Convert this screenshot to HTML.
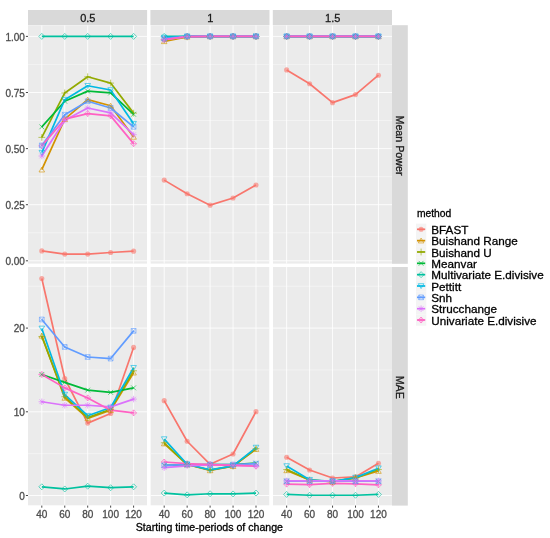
<!DOCTYPE html>
<html><head><meta charset="utf-8"><title>Change point methods: Mean Power and MAE</title>
<style>html,body{margin:0;padding:0;background:#fff}svg{display:block}</style></head>
<body>
<svg width="550" height="538" viewBox="0 0 550 538" font-family="'Liberation Sans', sans-serif">
<rect width="550" height="538" fill="#fff"/>
<rect x="28.0" y="10.0" width="119.1" height="15.2" fill="#D9D9D9"/>
<text x="87.85" y="22.2" font-size="11" fill="#1A1A1A" stroke="#1A1A1A" stroke-width="0.3" text-anchor="middle">0.5</text>
<rect x="150.4" y="10.0" width="119.1" height="15.2" fill="#D9D9D9"/>
<text x="210.25" y="22.2" font-size="11" fill="#1A1A1A" stroke="#1A1A1A" stroke-width="0.3" text-anchor="middle">1</text>
<rect x="272.8" y="10.0" width="119.2" height="15.2" fill="#D9D9D9"/>
<text x="332.7" y="22.2" font-size="11" fill="#1A1A1A" stroke="#1A1A1A" stroke-width="0.3" text-anchor="middle">1.5</text>
<rect x="392.0" y="25.2" width="15.8" height="238.6" fill="#D9D9D9"/>
<text transform="translate(395.6 145.5) rotate(90)" font-size="10.7" fill="#1A1A1A" stroke="#1A1A1A" stroke-width="0.3" text-anchor="middle">Mean Power</text>
<rect x="392.0" y="267.0" width="15.8" height="238.6" fill="#D9D9D9"/>
<text transform="translate(395.6 387.3) rotate(90)" font-size="10.7" fill="#1A1A1A" stroke="#1A1A1A" stroke-width="0.3" text-anchor="middle">MAE</text>
<svg x="28.0" y="25.2" width="119.1" height="238.6" viewBox="28.0 25.2 119.1 238.6">
<rect x="28.0" y="25.2" width="119.1" height="238.6" fill="#EBEBEB"/>
<path d="M28.0 232.75H147.1M28.0 176.65H147.1M28.0 120.55H147.1M28.0 64.45H147.1" stroke="#F8F8F8" stroke-width="0.6" fill="none"/>
<path d="M28.0 260.8H147.1M28.0 204.7H147.1M28.0 148.6H147.1M28.0 92.5H147.1M28.0 36.4H147.1M41.8 25.2V263.8M64.75 25.2V263.8M87.7 25.2V263.8M110.65 25.2V263.8M133.6 25.2V263.8" stroke="#FFFFFF" stroke-width="0.85" fill="none"/>
<polyline points="41.8,250.93 64.75,254.07 87.7,254.07 110.65,252.5 133.6,251.15" fill="none" stroke="#F8766D" stroke-width="1.7" stroke-linejoin="round"/>
<polyline points="41.8,169.69 64.75,119.2 87.7,99.68 110.65,105.74 133.6,136.93" fill="none" stroke="#D39200" stroke-width="1.7" stroke-linejoin="round"/>
<polyline points="41.8,137.38 64.75,92.95 87.7,76.79 110.65,83.08 133.6,113.14" fill="none" stroke="#93AA00" stroke-width="1.7" stroke-linejoin="round"/>
<polyline points="41.8,126.83 64.75,101.25 87.7,91.15 110.65,92.95 133.6,114.27" fill="none" stroke="#00BA38" stroke-width="1.7" stroke-linejoin="round"/>
<polyline points="41.8,36.4 64.75,36.4 87.7,36.4 110.65,36.4 133.6,36.4" fill="none" stroke="#00C19F" stroke-width="1.7" stroke-linejoin="round"/>
<polyline points="41.8,152.64 64.75,99.68 87.7,85.77 110.65,90.03 133.6,123.69" fill="none" stroke="#00B9E3" stroke-width="1.7" stroke-linejoin="round"/>
<polyline points="41.8,145.46 64.75,114.72 87.7,101.25 110.65,107.98 133.6,126.83" fill="none" stroke="#619CFF" stroke-width="1.7" stroke-linejoin="round"/>
<polyline points="41.8,156.01 64.75,120.33 87.7,107.98 110.65,112.92 133.6,134.69" fill="none" stroke="#DB72FB" stroke-width="1.7" stroke-linejoin="round"/>
<polyline points="41.8,145.91 64.75,119.2 87.7,113.59 110.65,115.84 133.6,143.66" fill="none" stroke="#FF61C3" stroke-width="1.7" stroke-linejoin="round"/>
<circle cx="41.8" cy="250.93" r="2.56" fill="#F8766D" opacity="0.6"/>
<circle cx="64.75" cy="254.07" r="2.56" fill="#F8766D" opacity="0.6"/>
<circle cx="87.7" cy="254.07" r="2.56" fill="#F8766D" opacity="0.6"/>
<circle cx="110.65" cy="252.5" r="2.56" fill="#F8766D" opacity="0.6"/>
<circle cx="133.6" cy="251.15" r="2.56" fill="#F8766D" opacity="0.6"/>
<path d="M41.8 142.91L44.8 145.91L41.8 148.91L38.8 145.91ZM38.8 145.91H44.8M41.8 142.91V148.91" stroke="#FF61C3" stroke-width="1.0" fill="none" opacity="0.6"/>
<path d="M64.75 116.2L67.75 119.2L64.75 122.2L61.75 119.2ZM61.75 119.2H67.75M64.75 116.2V122.2" stroke="#FF61C3" stroke-width="1.0" fill="none" opacity="0.6"/>
<path d="M87.7 110.59L90.7 113.59L87.7 116.59L84.7 113.59ZM84.7 113.59H90.7M87.7 110.59V116.59" stroke="#FF61C3" stroke-width="1.0" fill="none" opacity="0.6"/>
<path d="M110.65 112.84L113.65 115.84L110.65 118.84L107.65 115.84ZM107.65 115.84H113.65M110.65 112.84V118.84" stroke="#FF61C3" stroke-width="1.0" fill="none" opacity="0.6"/>
<path d="M133.6 140.66L136.6 143.66L133.6 146.66L130.6 143.66ZM130.6 143.66H136.6M133.6 140.66V146.66" stroke="#FF61C3" stroke-width="1.0" fill="none" opacity="0.6"/>
<path d="M41.8 167.09L44.6 171.99L39 171.99Z" stroke="#D39200" stroke-width="1.0" fill="none" opacity="0.6"/>
<path d="M64.75 116.6L67.55 121.5L61.95 121.5Z" stroke="#D39200" stroke-width="1.0" fill="none" opacity="0.6"/>
<path d="M87.7 97.08L90.5 101.98L84.9 101.98Z" stroke="#D39200" stroke-width="1.0" fill="none" opacity="0.6"/>
<path d="M110.65 103.14L113.45 108.04L107.85 108.04Z" stroke="#D39200" stroke-width="1.0" fill="none" opacity="0.6"/>
<path d="M133.6 134.33L136.4 139.23L130.8 139.23Z" stroke="#D39200" stroke-width="1.0" fill="none" opacity="0.6"/>
<path d="M38.4 137.38H45.2M41.8 133.98V140.78" stroke="#93AA00" stroke-width="1.0" fill="none" opacity="0.6"/>
<path d="M61.35 92.95H68.15M64.75 89.55V96.35" stroke="#93AA00" stroke-width="1.0" fill="none" opacity="0.6"/>
<path d="M84.3 76.79H91.1M87.7 73.39V80.19" stroke="#93AA00" stroke-width="1.0" fill="none" opacity="0.6"/>
<path d="M107.25 83.08H114.05M110.65 79.68V86.48" stroke="#93AA00" stroke-width="1.0" fill="none" opacity="0.6"/>
<path d="M130.2 113.14H137M133.6 109.74V116.54" stroke="#93AA00" stroke-width="1.0" fill="none" opacity="0.6"/>
<path d="M39.37 124.4L44.23 129.26M39.37 129.26L44.23 124.4" stroke="#00BA38" stroke-width="1.0" fill="none" opacity="0.6"/>
<path d="M62.32 98.82L67.18 103.68M62.32 103.68L67.18 98.82" stroke="#00BA38" stroke-width="1.0" fill="none" opacity="0.6"/>
<path d="M85.27 88.72L90.13 93.58M85.27 93.58L90.13 88.72" stroke="#00BA38" stroke-width="1.0" fill="none" opacity="0.6"/>
<path d="M108.22 90.52L113.08 95.38M108.22 95.38L113.08 90.52" stroke="#00BA38" stroke-width="1.0" fill="none" opacity="0.6"/>
<path d="M131.17 111.84L136.03 116.7M131.17 116.7L136.03 111.84" stroke="#00BA38" stroke-width="1.0" fill="none" opacity="0.6"/>
<path d="M41.8 33.4L44.8 36.4L41.8 39.4L38.8 36.4Z" stroke="#00C19F" stroke-width="1.0" fill="none" opacity="0.6"/>
<path d="M64.75 33.4L67.75 36.4L64.75 39.4L61.75 36.4Z" stroke="#00C19F" stroke-width="1.0" fill="none" opacity="0.6"/>
<path d="M87.7 33.4L90.7 36.4L87.7 39.4L84.7 36.4Z" stroke="#00C19F" stroke-width="1.0" fill="none" opacity="0.6"/>
<path d="M110.65 33.4L113.65 36.4L110.65 39.4L107.65 36.4Z" stroke="#00C19F" stroke-width="1.0" fill="none" opacity="0.6"/>
<path d="M133.6 33.4L136.6 36.4L133.6 39.4L130.6 36.4Z" stroke="#00C19F" stroke-width="1.0" fill="none" opacity="0.6"/>
<path d="M39.45 143.11H44.15V147.81H39.45ZM39.45 143.11L44.15 147.81M39.45 147.81L44.15 143.11" stroke="#619CFF" stroke-width="1.0" fill="none" opacity="0.6"/>
<path d="M62.4 112.37H67.1V117.07H62.4ZM62.4 112.37L67.1 117.07M62.4 117.07L67.1 112.37" stroke="#619CFF" stroke-width="1.0" fill="none" opacity="0.6"/>
<path d="M85.35 98.9H90.05V103.6H85.35ZM85.35 98.9L90.05 103.6M85.35 103.6L90.05 98.9" stroke="#619CFF" stroke-width="1.0" fill="none" opacity="0.6"/>
<path d="M108.3 105.63H113V110.33H108.3ZM108.3 105.63L113 110.33M108.3 110.33L113 105.63" stroke="#619CFF" stroke-width="1.0" fill="none" opacity="0.6"/>
<path d="M131.25 124.48H135.95V129.18H131.25ZM131.25 124.48L135.95 129.18M131.25 129.18L135.95 124.48" stroke="#619CFF" stroke-width="1.0" fill="none" opacity="0.6"/>
<path d="M41.8 155.24L44.6 150.34L39 150.34Z" stroke="#00B9E3" stroke-width="1.0" fill="none" opacity="0.6"/>
<path d="M64.75 102.28L67.55 97.38L61.95 97.38Z" stroke="#00B9E3" stroke-width="1.0" fill="none" opacity="0.6"/>
<path d="M87.7 88.37L90.5 83.47L84.9 83.47Z" stroke="#00B9E3" stroke-width="1.0" fill="none" opacity="0.6"/>
<path d="M110.65 92.63L113.45 87.73L107.85 87.73Z" stroke="#00B9E3" stroke-width="1.0" fill="none" opacity="0.6"/>
<path d="M133.6 126.29L136.4 121.39L130.8 121.39Z" stroke="#00B9E3" stroke-width="1.0" fill="none" opacity="0.6"/>
<path d="M38.56 156.01H45.04M41.8 152.77V159.25M39.51 153.71L44.09 158.3M39.51 158.3L44.09 153.71" stroke="#DB72FB" stroke-width="1.0" fill="none" opacity="0.6"/>
<path d="M61.51 120.33H67.99M64.75 117.09V123.57M62.46 118.03L67.04 122.62M62.46 122.62L67.04 118.03" stroke="#DB72FB" stroke-width="1.0" fill="none" opacity="0.6"/>
<path d="M84.46 107.98H90.94M87.7 104.74V111.22M85.41 105.69L89.99 110.27M85.41 110.27L89.99 105.69" stroke="#DB72FB" stroke-width="1.0" fill="none" opacity="0.6"/>
<path d="M107.41 112.92H113.89M110.65 109.68V116.16M108.36 110.63L112.94 115.21M108.36 115.21L112.94 110.63" stroke="#DB72FB" stroke-width="1.0" fill="none" opacity="0.6"/>
<path d="M130.36 134.69H136.84M133.6 131.45V137.93M131.31 132.4L135.89 136.98M131.31 136.98L135.89 132.4" stroke="#DB72FB" stroke-width="1.0" fill="none" opacity="0.6"/>
</svg>
<svg x="150.4" y="25.2" width="119.1" height="238.6" viewBox="150.4 25.2 119.1 238.6">
<rect x="150.4" y="25.2" width="119.1" height="238.6" fill="#EBEBEB"/>
<path d="M150.4 232.75H269.5M150.4 176.65H269.5M150.4 120.55H269.5M150.4 64.45H269.5" stroke="#F8F8F8" stroke-width="0.6" fill="none"/>
<path d="M150.4 260.8H269.5M150.4 204.7H269.5M150.4 148.6H269.5M150.4 92.5H269.5M150.4 36.4H269.5M164.2 25.2V263.8M187.15 25.2V263.8M210.1 25.2V263.8M233.05 25.2V263.8M256 25.2V263.8" stroke="#FFFFFF" stroke-width="0.85" fill="none"/>
<polyline points="164.2,180.11 187.15,193.7 210.1,205.15 233.05,197.97 256,184.95" fill="none" stroke="#F8766D" stroke-width="1.7" stroke-linejoin="round"/>
<polyline points="164.2,41.34 187.15,36.85 210.1,36.4 233.05,36.4 256,36.4" fill="none" stroke="#D39200" stroke-width="1.7" stroke-linejoin="round"/>
<polyline points="164.2,39.99 187.15,36.85 210.1,36.4 233.05,36.4 256,36.4" fill="none" stroke="#93AA00" stroke-width="1.7" stroke-linejoin="round"/>
<polyline points="164.2,38.64 187.15,36.4 210.1,36.4 233.05,36.4 256,36.4" fill="none" stroke="#00BA38" stroke-width="1.7" stroke-linejoin="round"/>
<polyline points="164.2,36.4 187.15,36.4 210.1,36.4 233.05,36.4 256,36.4" fill="none" stroke="#00C19F" stroke-width="1.7" stroke-linejoin="round"/>
<polyline points="164.2,37.52 187.15,36.4 210.1,36.4 233.05,36.4 256,36.4" fill="none" stroke="#00B9E3" stroke-width="1.7" stroke-linejoin="round"/>
<polyline points="164.2,38.64 187.15,36.4 210.1,36.4 233.05,36.4 256,36.4" fill="none" stroke="#619CFF" stroke-width="1.7" stroke-linejoin="round"/>
<polyline points="164.2,39.77 187.15,36.62 210.1,36.4 233.05,36.4 256,36.4" fill="none" stroke="#DB72FB" stroke-width="1.7" stroke-linejoin="round"/>
<polyline points="164.2,39.54 187.15,36.62 210.1,36.4 233.05,36.4 256,36.4" fill="none" stroke="#FF61C3" stroke-width="1.7" stroke-linejoin="round"/>
<circle cx="164.2" cy="180.11" r="2.56" fill="#F8766D" opacity="0.6"/>
<circle cx="187.15" cy="193.7" r="2.56" fill="#F8766D" opacity="0.6"/>
<circle cx="210.1" cy="205.15" r="2.56" fill="#F8766D" opacity="0.6"/>
<circle cx="233.05" cy="197.97" r="2.56" fill="#F8766D" opacity="0.6"/>
<circle cx="256" cy="184.95" r="2.56" fill="#F8766D" opacity="0.6"/>
<path d="M164.2 36.54L167.2 39.54L164.2 42.54L161.2 39.54ZM161.2 39.54H167.2M164.2 36.54V42.54" stroke="#FF61C3" stroke-width="1.0" fill="none" opacity="0.6"/>
<path d="M187.15 33.62L190.15 36.62L187.15 39.62L184.15 36.62ZM184.15 36.62H190.15M187.15 33.62V39.62" stroke="#FF61C3" stroke-width="1.0" fill="none" opacity="0.6"/>
<path d="M210.1 33.4L213.1 36.4L210.1 39.4L207.1 36.4ZM207.1 36.4H213.1M210.1 33.4V39.4" stroke="#FF61C3" stroke-width="1.0" fill="none" opacity="0.6"/>
<path d="M233.05 33.4L236.05 36.4L233.05 39.4L230.05 36.4ZM230.05 36.4H236.05M233.05 33.4V39.4" stroke="#FF61C3" stroke-width="1.0" fill="none" opacity="0.6"/>
<path d="M256 33.4L259 36.4L256 39.4L253 36.4ZM253 36.4H259M256 33.4V39.4" stroke="#FF61C3" stroke-width="1.0" fill="none" opacity="0.6"/>
<path d="M164.2 38.74L167 43.64L161.4 43.64Z" stroke="#D39200" stroke-width="1.0" fill="none" opacity="0.6"/>
<path d="M187.15 34.25L189.95 39.15L184.35 39.15Z" stroke="#D39200" stroke-width="1.0" fill="none" opacity="0.6"/>
<path d="M210.1 33.8L212.9 38.7L207.3 38.7Z" stroke="#D39200" stroke-width="1.0" fill="none" opacity="0.6"/>
<path d="M233.05 33.8L235.85 38.7L230.25 38.7Z" stroke="#D39200" stroke-width="1.0" fill="none" opacity="0.6"/>
<path d="M256 33.8L258.8 38.7L253.2 38.7Z" stroke="#D39200" stroke-width="1.0" fill="none" opacity="0.6"/>
<path d="M160.8 39.99H167.6M164.2 36.59V43.39" stroke="#93AA00" stroke-width="1.0" fill="none" opacity="0.6"/>
<path d="M183.75 36.85H190.55M187.15 33.45V40.25" stroke="#93AA00" stroke-width="1.0" fill="none" opacity="0.6"/>
<path d="M206.7 36.4H213.5M210.1 33V39.8" stroke="#93AA00" stroke-width="1.0" fill="none" opacity="0.6"/>
<path d="M229.65 36.4H236.45M233.05 33V39.8" stroke="#93AA00" stroke-width="1.0" fill="none" opacity="0.6"/>
<path d="M252.6 36.4H259.4M256 33V39.8" stroke="#93AA00" stroke-width="1.0" fill="none" opacity="0.6"/>
<path d="M161.77 36.21L166.63 41.07M161.77 41.07L166.63 36.21" stroke="#00BA38" stroke-width="1.0" fill="none" opacity="0.6"/>
<path d="M184.72 33.97L189.58 38.83M184.72 38.83L189.58 33.97" stroke="#00BA38" stroke-width="1.0" fill="none" opacity="0.6"/>
<path d="M207.67 33.97L212.53 38.83M207.67 38.83L212.53 33.97" stroke="#00BA38" stroke-width="1.0" fill="none" opacity="0.6"/>
<path d="M230.62 33.97L235.48 38.83M230.62 38.83L235.48 33.97" stroke="#00BA38" stroke-width="1.0" fill="none" opacity="0.6"/>
<path d="M253.57 33.97L258.43 38.83M253.57 38.83L258.43 33.97" stroke="#00BA38" stroke-width="1.0" fill="none" opacity="0.6"/>
<path d="M164.2 33.4L167.2 36.4L164.2 39.4L161.2 36.4Z" stroke="#00C19F" stroke-width="1.0" fill="none" opacity="0.6"/>
<path d="M187.15 33.4L190.15 36.4L187.15 39.4L184.15 36.4Z" stroke="#00C19F" stroke-width="1.0" fill="none" opacity="0.6"/>
<path d="M210.1 33.4L213.1 36.4L210.1 39.4L207.1 36.4Z" stroke="#00C19F" stroke-width="1.0" fill="none" opacity="0.6"/>
<path d="M233.05 33.4L236.05 36.4L233.05 39.4L230.05 36.4Z" stroke="#00C19F" stroke-width="1.0" fill="none" opacity="0.6"/>
<path d="M256 33.4L259 36.4L256 39.4L253 36.4Z" stroke="#00C19F" stroke-width="1.0" fill="none" opacity="0.6"/>
<path d="M161.85 36.29H166.55V40.99H161.85ZM161.85 36.29L166.55 40.99M161.85 40.99L166.55 36.29" stroke="#619CFF" stroke-width="1.0" fill="none" opacity="0.6"/>
<path d="M184.8 34.05H189.5V38.75H184.8ZM184.8 34.05L189.5 38.75M184.8 38.75L189.5 34.05" stroke="#619CFF" stroke-width="1.0" fill="none" opacity="0.6"/>
<path d="M207.75 34.05H212.45V38.75H207.75ZM207.75 34.05L212.45 38.75M207.75 38.75L212.45 34.05" stroke="#619CFF" stroke-width="1.0" fill="none" opacity="0.6"/>
<path d="M230.7 34.05H235.4V38.75H230.7ZM230.7 34.05L235.4 38.75M230.7 38.75L235.4 34.05" stroke="#619CFF" stroke-width="1.0" fill="none" opacity="0.6"/>
<path d="M253.65 34.05H258.35V38.75H253.65ZM253.65 34.05L258.35 38.75M253.65 38.75L258.35 34.05" stroke="#619CFF" stroke-width="1.0" fill="none" opacity="0.6"/>
<path d="M164.2 40.12L167 35.22L161.4 35.22Z" stroke="#00B9E3" stroke-width="1.0" fill="none" opacity="0.6"/>
<path d="M187.15 39L189.95 34.1L184.35 34.1Z" stroke="#00B9E3" stroke-width="1.0" fill="none" opacity="0.6"/>
<path d="M210.1 39L212.9 34.1L207.3 34.1Z" stroke="#00B9E3" stroke-width="1.0" fill="none" opacity="0.6"/>
<path d="M233.05 39L235.85 34.1L230.25 34.1Z" stroke="#00B9E3" stroke-width="1.0" fill="none" opacity="0.6"/>
<path d="M256 39L258.8 34.1L253.2 34.1Z" stroke="#00B9E3" stroke-width="1.0" fill="none" opacity="0.6"/>
<path d="M160.96 39.77H167.44M164.2 36.53V43.01M161.91 37.48L166.49 42.06M161.91 42.06L166.49 37.48" stroke="#DB72FB" stroke-width="1.0" fill="none" opacity="0.6"/>
<path d="M183.91 36.62H190.39M187.15 33.38V39.86M184.86 34.33L189.44 38.92M184.86 38.92L189.44 34.33" stroke="#DB72FB" stroke-width="1.0" fill="none" opacity="0.6"/>
<path d="M206.86 36.4H213.34M210.1 33.16V39.64M207.81 34.11L212.39 38.69M207.81 38.69L212.39 34.11" stroke="#DB72FB" stroke-width="1.0" fill="none" opacity="0.6"/>
<path d="M229.81 36.4H236.29M233.05 33.16V39.64M230.76 34.11L235.34 38.69M230.76 38.69L235.34 34.11" stroke="#DB72FB" stroke-width="1.0" fill="none" opacity="0.6"/>
<path d="M252.76 36.4H259.24M256 33.16V39.64M253.71 34.11L258.29 38.69M253.71 38.69L258.29 34.11" stroke="#DB72FB" stroke-width="1.0" fill="none" opacity="0.6"/>
</svg>
<svg x="272.8" y="25.2" width="119.2" height="238.6" viewBox="272.8 25.2 119.2 238.6">
<rect x="272.8" y="25.2" width="119.2" height="238.6" fill="#EBEBEB"/>
<path d="M272.8 232.75H392.0M272.8 176.65H392.0M272.8 120.55H392.0M272.8 64.45H392.0" stroke="#F8F8F8" stroke-width="0.6" fill="none"/>
<path d="M272.8 260.8H392.0M272.8 204.7H392.0M272.8 148.6H392.0M272.8 92.5H392.0M272.8 36.4H392.0M286.65 25.2V263.8M309.6 25.2V263.8M332.55 25.2V263.8M355.5 25.2V263.8M378.45 25.2V263.8" stroke="#FFFFFF" stroke-width="0.85" fill="none"/>
<polyline points="286.65,69.9 309.6,83.75 332.55,102.67 355.5,94.59 378.45,75.22" fill="none" stroke="#F8766D" stroke-width="1.7" stroke-linejoin="round"/>
<polyline points="286.65,36.4 309.6,36.4 332.55,36.4 355.5,36.4 378.45,36.4" fill="none" stroke="#D39200" stroke-width="1.7" stroke-linejoin="round"/>
<polyline points="286.65,36.4 309.6,36.4 332.55,36.4 355.5,36.4 378.45,36.4" fill="none" stroke="#93AA00" stroke-width="1.7" stroke-linejoin="round"/>
<polyline points="286.65,36.4 309.6,36.4 332.55,36.4 355.5,36.4 378.45,36.4" fill="none" stroke="#00BA38" stroke-width="1.7" stroke-linejoin="round"/>
<polyline points="286.65,36.4 309.6,36.4 332.55,36.4 355.5,36.4 378.45,36.4" fill="none" stroke="#00C19F" stroke-width="1.7" stroke-linejoin="round"/>
<polyline points="286.65,36.4 309.6,36.4 332.55,36.4 355.5,36.4 378.45,36.4" fill="none" stroke="#00B9E3" stroke-width="1.7" stroke-linejoin="round"/>
<polyline points="286.65,36.4 309.6,36.4 332.55,36.4 355.5,36.4 378.45,36.4" fill="none" stroke="#619CFF" stroke-width="1.7" stroke-linejoin="round"/>
<polyline points="286.65,36.4 309.6,36.4 332.55,36.4 355.5,36.4 378.45,36.4" fill="none" stroke="#DB72FB" stroke-width="1.7" stroke-linejoin="round"/>
<polyline points="286.65,36.4 309.6,36.4 332.55,36.4 355.5,36.4 378.45,36.4" fill="none" stroke="#FF61C3" stroke-width="1.7" stroke-linejoin="round"/>
<circle cx="286.65" cy="69.9" r="2.56" fill="#F8766D" opacity="0.6"/>
<circle cx="309.6" cy="83.75" r="2.56" fill="#F8766D" opacity="0.6"/>
<circle cx="332.55" cy="102.67" r="2.56" fill="#F8766D" opacity="0.6"/>
<circle cx="355.5" cy="94.59" r="2.56" fill="#F8766D" opacity="0.6"/>
<circle cx="378.45" cy="75.22" r="2.56" fill="#F8766D" opacity="0.6"/>
<path d="M286.65 33.4L289.65 36.4L286.65 39.4L283.65 36.4ZM283.65 36.4H289.65M286.65 33.4V39.4" stroke="#FF61C3" stroke-width="1.0" fill="none" opacity="0.6"/>
<path d="M309.6 33.4L312.6 36.4L309.6 39.4L306.6 36.4ZM306.6 36.4H312.6M309.6 33.4V39.4" stroke="#FF61C3" stroke-width="1.0" fill="none" opacity="0.6"/>
<path d="M332.55 33.4L335.55 36.4L332.55 39.4L329.55 36.4ZM329.55 36.4H335.55M332.55 33.4V39.4" stroke="#FF61C3" stroke-width="1.0" fill="none" opacity="0.6"/>
<path d="M355.5 33.4L358.5 36.4L355.5 39.4L352.5 36.4ZM352.5 36.4H358.5M355.5 33.4V39.4" stroke="#FF61C3" stroke-width="1.0" fill="none" opacity="0.6"/>
<path d="M378.45 33.4L381.45 36.4L378.45 39.4L375.45 36.4ZM375.45 36.4H381.45M378.45 33.4V39.4" stroke="#FF61C3" stroke-width="1.0" fill="none" opacity="0.6"/>
<path d="M286.65 33.8L289.45 38.7L283.85 38.7Z" stroke="#D39200" stroke-width="1.0" fill="none" opacity="0.6"/>
<path d="M309.6 33.8L312.4 38.7L306.8 38.7Z" stroke="#D39200" stroke-width="1.0" fill="none" opacity="0.6"/>
<path d="M332.55 33.8L335.35 38.7L329.75 38.7Z" stroke="#D39200" stroke-width="1.0" fill="none" opacity="0.6"/>
<path d="M355.5 33.8L358.3 38.7L352.7 38.7Z" stroke="#D39200" stroke-width="1.0" fill="none" opacity="0.6"/>
<path d="M378.45 33.8L381.25 38.7L375.65 38.7Z" stroke="#D39200" stroke-width="1.0" fill="none" opacity="0.6"/>
<path d="M283.25 36.4H290.05M286.65 33V39.8" stroke="#93AA00" stroke-width="1.0" fill="none" opacity="0.6"/>
<path d="M306.2 36.4H313M309.6 33V39.8" stroke="#93AA00" stroke-width="1.0" fill="none" opacity="0.6"/>
<path d="M329.15 36.4H335.95M332.55 33V39.8" stroke="#93AA00" stroke-width="1.0" fill="none" opacity="0.6"/>
<path d="M352.1 36.4H358.9M355.5 33V39.8" stroke="#93AA00" stroke-width="1.0" fill="none" opacity="0.6"/>
<path d="M375.05 36.4H381.85M378.45 33V39.8" stroke="#93AA00" stroke-width="1.0" fill="none" opacity="0.6"/>
<path d="M284.22 33.97L289.08 38.83M284.22 38.83L289.08 33.97" stroke="#00BA38" stroke-width="1.0" fill="none" opacity="0.6"/>
<path d="M307.17 33.97L312.03 38.83M307.17 38.83L312.03 33.97" stroke="#00BA38" stroke-width="1.0" fill="none" opacity="0.6"/>
<path d="M330.12 33.97L334.98 38.83M330.12 38.83L334.98 33.97" stroke="#00BA38" stroke-width="1.0" fill="none" opacity="0.6"/>
<path d="M353.07 33.97L357.93 38.83M353.07 38.83L357.93 33.97" stroke="#00BA38" stroke-width="1.0" fill="none" opacity="0.6"/>
<path d="M376.02 33.97L380.88 38.83M376.02 38.83L380.88 33.97" stroke="#00BA38" stroke-width="1.0" fill="none" opacity="0.6"/>
<path d="M286.65 33.4L289.65 36.4L286.65 39.4L283.65 36.4Z" stroke="#00C19F" stroke-width="1.0" fill="none" opacity="0.6"/>
<path d="M309.6 33.4L312.6 36.4L309.6 39.4L306.6 36.4Z" stroke="#00C19F" stroke-width="1.0" fill="none" opacity="0.6"/>
<path d="M332.55 33.4L335.55 36.4L332.55 39.4L329.55 36.4Z" stroke="#00C19F" stroke-width="1.0" fill="none" opacity="0.6"/>
<path d="M355.5 33.4L358.5 36.4L355.5 39.4L352.5 36.4Z" stroke="#00C19F" stroke-width="1.0" fill="none" opacity="0.6"/>
<path d="M378.45 33.4L381.45 36.4L378.45 39.4L375.45 36.4Z" stroke="#00C19F" stroke-width="1.0" fill="none" opacity="0.6"/>
<path d="M284.3 34.05H289V38.75H284.3ZM284.3 34.05L289 38.75M284.3 38.75L289 34.05" stroke="#619CFF" stroke-width="1.0" fill="none" opacity="0.6"/>
<path d="M307.25 34.05H311.95V38.75H307.25ZM307.25 34.05L311.95 38.75M307.25 38.75L311.95 34.05" stroke="#619CFF" stroke-width="1.0" fill="none" opacity="0.6"/>
<path d="M330.2 34.05H334.9V38.75H330.2ZM330.2 34.05L334.9 38.75M330.2 38.75L334.9 34.05" stroke="#619CFF" stroke-width="1.0" fill="none" opacity="0.6"/>
<path d="M353.15 34.05H357.85V38.75H353.15ZM353.15 34.05L357.85 38.75M353.15 38.75L357.85 34.05" stroke="#619CFF" stroke-width="1.0" fill="none" opacity="0.6"/>
<path d="M376.1 34.05H380.8V38.75H376.1ZM376.1 34.05L380.8 38.75M376.1 38.75L380.8 34.05" stroke="#619CFF" stroke-width="1.0" fill="none" opacity="0.6"/>
<path d="M286.65 39L289.45 34.1L283.85 34.1Z" stroke="#00B9E3" stroke-width="1.0" fill="none" opacity="0.6"/>
<path d="M309.6 39L312.4 34.1L306.8 34.1Z" stroke="#00B9E3" stroke-width="1.0" fill="none" opacity="0.6"/>
<path d="M332.55 39L335.35 34.1L329.75 34.1Z" stroke="#00B9E3" stroke-width="1.0" fill="none" opacity="0.6"/>
<path d="M355.5 39L358.3 34.1L352.7 34.1Z" stroke="#00B9E3" stroke-width="1.0" fill="none" opacity="0.6"/>
<path d="M378.45 39L381.25 34.1L375.65 34.1Z" stroke="#00B9E3" stroke-width="1.0" fill="none" opacity="0.6"/>
<path d="M283.41 36.4H289.89M286.65 33.16V39.64M284.36 34.11L288.94 38.69M284.36 38.69L288.94 34.11" stroke="#DB72FB" stroke-width="1.0" fill="none" opacity="0.6"/>
<path d="M306.36 36.4H312.84M309.6 33.16V39.64M307.31 34.11L311.89 38.69M307.31 38.69L311.89 34.11" stroke="#DB72FB" stroke-width="1.0" fill="none" opacity="0.6"/>
<path d="M329.31 36.4H335.79M332.55 33.16V39.64M330.26 34.11L334.84 38.69M330.26 38.69L334.84 34.11" stroke="#DB72FB" stroke-width="1.0" fill="none" opacity="0.6"/>
<path d="M352.26 36.4H358.74M355.5 33.16V39.64M353.21 34.11L357.79 38.69M353.21 38.69L357.79 34.11" stroke="#DB72FB" stroke-width="1.0" fill="none" opacity="0.6"/>
<path d="M375.21 36.4H381.69M378.45 33.16V39.64M376.16 34.11L380.74 38.69M376.16 38.69L380.74 34.11" stroke="#DB72FB" stroke-width="1.0" fill="none" opacity="0.6"/>
</svg>
<svg x="28.0" y="267.0" width="119.1" height="238.6" viewBox="28.0 267.0 119.1 238.6">
<rect x="28.0" y="267.0" width="119.1" height="238.6" fill="#EBEBEB"/>
<path d="M28.0 453.65H147.1M28.0 369.95H147.1M28.0 286.25H147.1" stroke="#F8F8F8" stroke-width="0.6" fill="none"/>
<path d="M28.0 495.5H147.1M28.0 411.8H147.1M28.0 328.1H147.1M41.8 267.0V505.6M64.75 267.0V505.6M87.7 267.0V505.6M110.65 267.0V505.6M133.6 267.0V505.6" stroke="#FFFFFF" stroke-width="0.85" fill="none"/>
<polyline points="41.8,278.47 64.75,378.49 87.7,423.1 110.65,413.56 133.6,347.43" fill="none" stroke="#F8766D" stroke-width="1.7" stroke-linejoin="round"/>
<polyline points="41.8,335.8 64.75,397.91 87.7,418.41 110.65,410.21 133.6,372.71" fill="none" stroke="#D39200" stroke-width="1.7" stroke-linejoin="round"/>
<polyline points="41.8,336.47 64.75,396.73 87.7,417.66 110.65,409.29 133.6,370.79" fill="none" stroke="#93AA00" stroke-width="1.7" stroke-linejoin="round"/>
<polyline points="41.8,374.47 64.75,382.34 87.7,390.12 110.65,392.38 133.6,387.86" fill="none" stroke="#00BA38" stroke-width="1.7" stroke-linejoin="round"/>
<polyline points="41.8,486.8 64.75,488.97 87.7,486.21 110.65,487.72 133.6,486.8" fill="none" stroke="#00C19F" stroke-width="1.7" stroke-linejoin="round"/>
<polyline points="41.8,328.43 64.75,394.56 87.7,415.73 110.65,407.53 133.6,367.77" fill="none" stroke="#00B9E3" stroke-width="1.7" stroke-linejoin="round"/>
<polyline points="41.8,319.48 64.75,346.93 87.7,356.98 110.65,358.57 133.6,330.86" fill="none" stroke="#619CFF" stroke-width="1.7" stroke-linejoin="round"/>
<polyline points="41.8,401.76 64.75,405.27 87.7,405.27 110.65,406.86 133.6,399.08" fill="none" stroke="#DB72FB" stroke-width="1.7" stroke-linejoin="round"/>
<polyline points="41.8,374.47 64.75,387.86 87.7,397.91 110.65,410.21 133.6,412.89" fill="none" stroke="#FF61C3" stroke-width="1.7" stroke-linejoin="round"/>
<circle cx="41.8" cy="278.47" r="2.56" fill="#F8766D" opacity="0.6"/>
<circle cx="64.75" cy="378.49" r="2.56" fill="#F8766D" opacity="0.6"/>
<circle cx="87.7" cy="423.1" r="2.56" fill="#F8766D" opacity="0.6"/>
<circle cx="110.65" cy="413.56" r="2.56" fill="#F8766D" opacity="0.6"/>
<circle cx="133.6" cy="347.43" r="2.56" fill="#F8766D" opacity="0.6"/>
<path d="M41.8 371.47L44.8 374.47L41.8 377.47L38.8 374.47ZM38.8 374.47H44.8M41.8 371.47V377.47" stroke="#FF61C3" stroke-width="1.0" fill="none" opacity="0.6"/>
<path d="M64.75 384.86L67.75 387.86L64.75 390.86L61.75 387.86ZM61.75 387.86H67.75M64.75 384.86V390.86" stroke="#FF61C3" stroke-width="1.0" fill="none" opacity="0.6"/>
<path d="M87.7 394.91L90.7 397.91L87.7 400.91L84.7 397.91ZM84.7 397.91H90.7M87.7 394.91V400.91" stroke="#FF61C3" stroke-width="1.0" fill="none" opacity="0.6"/>
<path d="M110.65 407.21L113.65 410.21L110.65 413.21L107.65 410.21ZM107.65 410.21H113.65M110.65 407.21V413.21" stroke="#FF61C3" stroke-width="1.0" fill="none" opacity="0.6"/>
<path d="M133.6 409.89L136.6 412.89L133.6 415.89L130.6 412.89ZM130.6 412.89H136.6M133.6 409.89V415.89" stroke="#FF61C3" stroke-width="1.0" fill="none" opacity="0.6"/>
<path d="M41.8 333.2L44.6 338.1L39 338.1Z" stroke="#D39200" stroke-width="1.0" fill="none" opacity="0.6"/>
<path d="M64.75 395.31L67.55 400.21L61.95 400.21Z" stroke="#D39200" stroke-width="1.0" fill="none" opacity="0.6"/>
<path d="M87.7 415.81L90.5 420.71L84.9 420.71Z" stroke="#D39200" stroke-width="1.0" fill="none" opacity="0.6"/>
<path d="M110.65 407.61L113.45 412.51L107.85 412.51Z" stroke="#D39200" stroke-width="1.0" fill="none" opacity="0.6"/>
<path d="M133.6 370.11L136.4 375.01L130.8 375.01Z" stroke="#D39200" stroke-width="1.0" fill="none" opacity="0.6"/>
<path d="M38.4 336.47H45.2M41.8 333.07V339.87" stroke="#93AA00" stroke-width="1.0" fill="none" opacity="0.6"/>
<path d="M61.35 396.73H68.15M64.75 393.33V400.13" stroke="#93AA00" stroke-width="1.0" fill="none" opacity="0.6"/>
<path d="M84.3 417.66H91.1M87.7 414.26V421.06" stroke="#93AA00" stroke-width="1.0" fill="none" opacity="0.6"/>
<path d="M107.25 409.29H114.05M110.65 405.89V412.69" stroke="#93AA00" stroke-width="1.0" fill="none" opacity="0.6"/>
<path d="M130.2 370.79H137M133.6 367.39V374.19" stroke="#93AA00" stroke-width="1.0" fill="none" opacity="0.6"/>
<path d="M39.37 372.04L44.23 376.9M39.37 376.9L44.23 372.04" stroke="#00BA38" stroke-width="1.0" fill="none" opacity="0.6"/>
<path d="M62.32 379.91L67.18 384.77M62.32 384.77L67.18 379.91" stroke="#00BA38" stroke-width="1.0" fill="none" opacity="0.6"/>
<path d="M85.27 387.69L90.13 392.55M85.27 392.55L90.13 387.69" stroke="#00BA38" stroke-width="1.0" fill="none" opacity="0.6"/>
<path d="M108.22 389.95L113.08 394.81M108.22 394.81L113.08 389.95" stroke="#00BA38" stroke-width="1.0" fill="none" opacity="0.6"/>
<path d="M131.17 385.43L136.03 390.29M131.17 390.29L136.03 385.43" stroke="#00BA38" stroke-width="1.0" fill="none" opacity="0.6"/>
<path d="M41.8 483.8L44.8 486.8L41.8 489.8L38.8 486.8Z" stroke="#00C19F" stroke-width="1.0" fill="none" opacity="0.6"/>
<path d="M64.75 485.97L67.75 488.97L64.75 491.97L61.75 488.97Z" stroke="#00C19F" stroke-width="1.0" fill="none" opacity="0.6"/>
<path d="M87.7 483.21L90.7 486.21L87.7 489.21L84.7 486.21Z" stroke="#00C19F" stroke-width="1.0" fill="none" opacity="0.6"/>
<path d="M110.65 484.72L113.65 487.72L110.65 490.72L107.65 487.72Z" stroke="#00C19F" stroke-width="1.0" fill="none" opacity="0.6"/>
<path d="M133.6 483.8L136.6 486.8L133.6 489.8L130.6 486.8Z" stroke="#00C19F" stroke-width="1.0" fill="none" opacity="0.6"/>
<path d="M39.45 317.13H44.15V321.83H39.45ZM39.45 317.13L44.15 321.83M39.45 321.83L44.15 317.13" stroke="#619CFF" stroke-width="1.0" fill="none" opacity="0.6"/>
<path d="M62.4 344.58H67.1V349.28H62.4ZM62.4 344.58L67.1 349.28M62.4 349.28L67.1 344.58" stroke="#619CFF" stroke-width="1.0" fill="none" opacity="0.6"/>
<path d="M85.35 354.63H90.05V359.33H85.35ZM85.35 354.63L90.05 359.33M85.35 359.33L90.05 354.63" stroke="#619CFF" stroke-width="1.0" fill="none" opacity="0.6"/>
<path d="M108.3 356.22H113V360.92H108.3ZM108.3 356.22L113 360.92M108.3 360.92L113 356.22" stroke="#619CFF" stroke-width="1.0" fill="none" opacity="0.6"/>
<path d="M131.25 328.51H135.95V333.21H131.25ZM131.25 328.51L135.95 333.21M131.25 333.21L135.95 328.51" stroke="#619CFF" stroke-width="1.0" fill="none" opacity="0.6"/>
<path d="M41.8 331.03L44.6 326.13L39 326.13Z" stroke="#00B9E3" stroke-width="1.0" fill="none" opacity="0.6"/>
<path d="M64.75 397.16L67.55 392.26L61.95 392.26Z" stroke="#00B9E3" stroke-width="1.0" fill="none" opacity="0.6"/>
<path d="M87.7 418.33L90.5 413.43L84.9 413.43Z" stroke="#00B9E3" stroke-width="1.0" fill="none" opacity="0.6"/>
<path d="M110.65 410.13L113.45 405.23L107.85 405.23Z" stroke="#00B9E3" stroke-width="1.0" fill="none" opacity="0.6"/>
<path d="M133.6 370.37L136.4 365.47L130.8 365.47Z" stroke="#00B9E3" stroke-width="1.0" fill="none" opacity="0.6"/>
<path d="M38.56 401.76H45.04M41.8 398.52V405M39.51 399.47L44.09 404.05M39.51 404.05L44.09 399.47" stroke="#DB72FB" stroke-width="1.0" fill="none" opacity="0.6"/>
<path d="M61.51 405.27H67.99M64.75 402.03V408.51M62.46 402.98L67.04 407.56M62.46 407.56L67.04 402.98" stroke="#DB72FB" stroke-width="1.0" fill="none" opacity="0.6"/>
<path d="M84.46 405.27H90.94M87.7 402.03V408.51M85.41 402.98L89.99 407.56M85.41 407.56L89.99 402.98" stroke="#DB72FB" stroke-width="1.0" fill="none" opacity="0.6"/>
<path d="M107.41 406.86H113.89M110.65 403.62V410.1M108.36 404.57L112.94 409.15M108.36 409.15L112.94 404.57" stroke="#DB72FB" stroke-width="1.0" fill="none" opacity="0.6"/>
<path d="M130.36 399.08H136.84M133.6 395.84V402.32M131.31 396.79L135.89 401.37M131.31 401.37L135.89 396.79" stroke="#DB72FB" stroke-width="1.0" fill="none" opacity="0.6"/>
</svg>
<svg x="150.4" y="267.0" width="119.1" height="238.6" viewBox="150.4 267.0 119.1 238.6">
<rect x="150.4" y="267.0" width="119.1" height="238.6" fill="#EBEBEB"/>
<path d="M150.4 453.65H269.5M150.4 369.95H269.5M150.4 286.25H269.5" stroke="#F8F8F8" stroke-width="0.6" fill="none"/>
<path d="M150.4 495.5H269.5M150.4 411.8H269.5M150.4 328.1H269.5M164.2 267.0V505.6M187.15 267.0V505.6M210.1 267.0V505.6M233.05 267.0V505.6M256 267.0V505.6" stroke="#FFFFFF" stroke-width="0.85" fill="none"/>
<polyline points="164.2,400.67 187.15,441.26 210.1,464.28 233.05,453.98 256,411.63" fill="none" stroke="#F8766D" stroke-width="1.7" stroke-linejoin="round"/>
<polyline points="164.2,443.52 187.15,464.53 210.1,470.39 233.05,466.2 256,449.13" fill="none" stroke="#D39200" stroke-width="1.7" stroke-linejoin="round"/>
<polyline points="164.2,442.77 187.15,464.53 210.1,469.97 233.05,466.2 256,448.63" fill="none" stroke="#93AA00" stroke-width="1.7" stroke-linejoin="round"/>
<polyline points="164.2,465.37 187.15,464.95 210.1,464.53 233.05,464.53 256,463.19" fill="none" stroke="#00BA38" stroke-width="1.7" stroke-linejoin="round"/>
<polyline points="164.2,493.07 187.15,494.83 210.1,493.74 233.05,493.91 256,493.07" fill="none" stroke="#00C19F" stroke-width="1.7" stroke-linejoin="round"/>
<polyline points="164.2,439.09 187.15,464.28 210.1,469.89 233.05,465.87 256,447.54" fill="none" stroke="#00B9E3" stroke-width="1.7" stroke-linejoin="round"/>
<polyline points="164.2,465.37 187.15,464.53 210.1,464.53 233.05,464.53 256,463.69" fill="none" stroke="#619CFF" stroke-width="1.7" stroke-linejoin="round"/>
<polyline points="164.2,467.63 187.15,465.79 210.1,464.95 233.05,465.37 256,465.79" fill="none" stroke="#DB72FB" stroke-width="1.7" stroke-linejoin="round"/>
<polyline points="164.2,462.02 187.15,463.69 210.1,464.53 233.05,465.37 256,466.2" fill="none" stroke="#FF61C3" stroke-width="1.7" stroke-linejoin="round"/>
<circle cx="164.2" cy="400.67" r="2.56" fill="#F8766D" opacity="0.6"/>
<circle cx="187.15" cy="441.26" r="2.56" fill="#F8766D" opacity="0.6"/>
<circle cx="210.1" cy="464.28" r="2.56" fill="#F8766D" opacity="0.6"/>
<circle cx="233.05" cy="453.98" r="2.56" fill="#F8766D" opacity="0.6"/>
<circle cx="256" cy="411.63" r="2.56" fill="#F8766D" opacity="0.6"/>
<path d="M164.2 459.02L167.2 462.02L164.2 465.02L161.2 462.02ZM161.2 462.02H167.2M164.2 459.02V465.02" stroke="#FF61C3" stroke-width="1.0" fill="none" opacity="0.6"/>
<path d="M187.15 460.69L190.15 463.69L187.15 466.69L184.15 463.69ZM184.15 463.69H190.15M187.15 460.69V466.69" stroke="#FF61C3" stroke-width="1.0" fill="none" opacity="0.6"/>
<path d="M210.1 461.53L213.1 464.53L210.1 467.53L207.1 464.53ZM207.1 464.53H213.1M210.1 461.53V467.53" stroke="#FF61C3" stroke-width="1.0" fill="none" opacity="0.6"/>
<path d="M233.05 462.37L236.05 465.37L233.05 468.37L230.05 465.37ZM230.05 465.37H236.05M233.05 462.37V468.37" stroke="#FF61C3" stroke-width="1.0" fill="none" opacity="0.6"/>
<path d="M256 463.2L259 466.2L256 469.2L253 466.2ZM253 466.2H259M256 463.2V469.2" stroke="#FF61C3" stroke-width="1.0" fill="none" opacity="0.6"/>
<path d="M164.2 440.92L167 445.82L161.4 445.82Z" stroke="#D39200" stroke-width="1.0" fill="none" opacity="0.6"/>
<path d="M187.15 461.93L189.95 466.83L184.35 466.83Z" stroke="#D39200" stroke-width="1.0" fill="none" opacity="0.6"/>
<path d="M210.1 467.79L212.9 472.69L207.3 472.69Z" stroke="#D39200" stroke-width="1.0" fill="none" opacity="0.6"/>
<path d="M233.05 463.6L235.85 468.5L230.25 468.5Z" stroke="#D39200" stroke-width="1.0" fill="none" opacity="0.6"/>
<path d="M256 446.53L258.8 451.43L253.2 451.43Z" stroke="#D39200" stroke-width="1.0" fill="none" opacity="0.6"/>
<path d="M160.8 442.77H167.6M164.2 439.37V446.17" stroke="#93AA00" stroke-width="1.0" fill="none" opacity="0.6"/>
<path d="M183.75 464.53H190.55M187.15 461.13V467.93" stroke="#93AA00" stroke-width="1.0" fill="none" opacity="0.6"/>
<path d="M206.7 469.97H213.5M210.1 466.57V473.37" stroke="#93AA00" stroke-width="1.0" fill="none" opacity="0.6"/>
<path d="M229.65 466.2H236.45M233.05 462.81V469.6" stroke="#93AA00" stroke-width="1.0" fill="none" opacity="0.6"/>
<path d="M252.6 448.63H259.4M256 445.23V452.03" stroke="#93AA00" stroke-width="1.0" fill="none" opacity="0.6"/>
<path d="M161.77 462.94L166.63 467.8M161.77 467.8L166.63 462.94" stroke="#00BA38" stroke-width="1.0" fill="none" opacity="0.6"/>
<path d="M184.72 462.52L189.58 467.38M184.72 467.38L189.58 462.52" stroke="#00BA38" stroke-width="1.0" fill="none" opacity="0.6"/>
<path d="M207.67 462.1L212.53 466.96M207.67 466.96L212.53 462.1" stroke="#00BA38" stroke-width="1.0" fill="none" opacity="0.6"/>
<path d="M230.62 462.1L235.48 466.96M230.62 466.96L235.48 462.1" stroke="#00BA38" stroke-width="1.0" fill="none" opacity="0.6"/>
<path d="M253.57 460.76L258.43 465.62M253.57 465.62L258.43 460.76" stroke="#00BA38" stroke-width="1.0" fill="none" opacity="0.6"/>
<path d="M164.2 490.07L167.2 493.07L164.2 496.07L161.2 493.07Z" stroke="#00C19F" stroke-width="1.0" fill="none" opacity="0.6"/>
<path d="M187.15 491.83L190.15 494.83L187.15 497.83L184.15 494.83Z" stroke="#00C19F" stroke-width="1.0" fill="none" opacity="0.6"/>
<path d="M210.1 490.74L213.1 493.74L210.1 496.74L207.1 493.74Z" stroke="#00C19F" stroke-width="1.0" fill="none" opacity="0.6"/>
<path d="M233.05 490.91L236.05 493.91L233.05 496.91L230.05 493.91Z" stroke="#00C19F" stroke-width="1.0" fill="none" opacity="0.6"/>
<path d="M256 490.07L259 493.07L256 496.07L253 493.07Z" stroke="#00C19F" stroke-width="1.0" fill="none" opacity="0.6"/>
<path d="M161.85 463.02H166.55V467.72H161.85ZM161.85 463.02L166.55 467.72M161.85 467.72L166.55 463.02" stroke="#619CFF" stroke-width="1.0" fill="none" opacity="0.6"/>
<path d="M184.8 462.18H189.5V466.88H184.8ZM184.8 462.18L189.5 466.88M184.8 466.88L189.5 462.18" stroke="#619CFF" stroke-width="1.0" fill="none" opacity="0.6"/>
<path d="M207.75 462.18H212.45V466.88H207.75ZM207.75 462.18L212.45 466.88M207.75 466.88L212.45 462.18" stroke="#619CFF" stroke-width="1.0" fill="none" opacity="0.6"/>
<path d="M230.7 462.18H235.4V466.88H230.7ZM230.7 462.18L235.4 466.88M230.7 466.88L235.4 462.18" stroke="#619CFF" stroke-width="1.0" fill="none" opacity="0.6"/>
<path d="M253.65 461.34H258.35V466.04H253.65ZM253.65 461.34L258.35 466.04M253.65 466.04L258.35 461.34" stroke="#619CFF" stroke-width="1.0" fill="none" opacity="0.6"/>
<path d="M164.2 441.69L167 436.79L161.4 436.79Z" stroke="#00B9E3" stroke-width="1.0" fill="none" opacity="0.6"/>
<path d="M187.15 466.88L189.95 461.98L184.35 461.98Z" stroke="#00B9E3" stroke-width="1.0" fill="none" opacity="0.6"/>
<path d="M210.1 472.49L212.9 467.59L207.3 467.59Z" stroke="#00B9E3" stroke-width="1.0" fill="none" opacity="0.6"/>
<path d="M233.05 468.47L235.85 463.57L230.25 463.57Z" stroke="#00B9E3" stroke-width="1.0" fill="none" opacity="0.6"/>
<path d="M256 450.14L258.8 445.24L253.2 445.24Z" stroke="#00B9E3" stroke-width="1.0" fill="none" opacity="0.6"/>
<path d="M160.96 467.63H167.44M164.2 464.39V470.87M161.91 465.34L166.49 469.92M161.91 469.92L166.49 465.34" stroke="#DB72FB" stroke-width="1.0" fill="none" opacity="0.6"/>
<path d="M183.91 465.79H190.39M187.15 462.55V469.03M184.86 463.5L189.44 468.08M184.86 468.08L189.44 463.5" stroke="#DB72FB" stroke-width="1.0" fill="none" opacity="0.6"/>
<path d="M206.86 464.95H213.34M210.1 461.71V468.19M207.81 462.66L212.39 467.24M207.81 467.24L212.39 462.66" stroke="#DB72FB" stroke-width="1.0" fill="none" opacity="0.6"/>
<path d="M229.81 465.37H236.29M233.05 462.13V468.61M230.76 463.08L235.34 467.66M230.76 467.66L235.34 463.08" stroke="#DB72FB" stroke-width="1.0" fill="none" opacity="0.6"/>
<path d="M252.76 465.79H259.24M256 462.55V469.03M253.71 463.5L258.29 468.08M253.71 468.08L258.29 463.5" stroke="#DB72FB" stroke-width="1.0" fill="none" opacity="0.6"/>
</svg>
<svg x="272.8" y="267.0" width="119.2" height="238.6" viewBox="272.8 267.0 119.2 238.6">
<rect x="272.8" y="267.0" width="119.2" height="238.6" fill="#EBEBEB"/>
<path d="M272.8 453.65H392.0M272.8 369.95H392.0M272.8 286.25H392.0" stroke="#F8F8F8" stroke-width="0.6" fill="none"/>
<path d="M272.8 495.5H392.0M272.8 411.8H392.0M272.8 328.1H392.0M286.65 267.0V505.6M309.6 267.0V505.6M332.55 267.0V505.6M355.5 267.0V505.6M378.45 267.0V505.6" stroke="#FFFFFF" stroke-width="0.85" fill="none"/>
<polyline points="286.65,457.25 309.6,469.97 332.55,478.01 355.5,476.92 378.45,463.19" fill="none" stroke="#F8766D" stroke-width="1.7" stroke-linejoin="round"/>
<polyline points="286.65,470.39 309.6,480.02 332.55,481.69 355.5,477.92 378.45,471.06" fill="none" stroke="#D39200" stroke-width="1.7" stroke-linejoin="round"/>
<polyline points="286.65,469.55 309.6,480.02 332.55,481.69 355.5,477.92 378.45,469.55" fill="none" stroke="#93AA00" stroke-width="1.7" stroke-linejoin="round"/>
<polyline points="286.65,481.27 309.6,481.27 332.55,481.27 355.5,481.27 378.45,481.27" fill="none" stroke="#00BA38" stroke-width="1.7" stroke-linejoin="round"/>
<polyline points="286.65,494.41 309.6,495.25 332.55,495.25 355.5,495.25 378.45,494.41" fill="none" stroke="#00C19F" stroke-width="1.7" stroke-linejoin="round"/>
<polyline points="286.65,466.04 309.6,479.76 332.55,481.27 355.5,477.59 378.45,468.21" fill="none" stroke="#00B9E3" stroke-width="1.7" stroke-linejoin="round"/>
<polyline points="286.65,481.27 309.6,481.27 332.55,481.27 355.5,481.27 378.45,481.27" fill="none" stroke="#619CFF" stroke-width="1.7" stroke-linejoin="round"/>
<polyline points="286.65,480.85 309.6,480.85 332.55,480.85 355.5,480.85 378.45,480.85" fill="none" stroke="#DB72FB" stroke-width="1.7" stroke-linejoin="round"/>
<polyline points="286.65,484.12 309.6,484.62 332.55,483.36 355.5,483.78 378.45,484.79" fill="none" stroke="#FF61C3" stroke-width="1.7" stroke-linejoin="round"/>
<circle cx="286.65" cy="457.25" r="2.56" fill="#F8766D" opacity="0.6"/>
<circle cx="309.6" cy="469.97" r="2.56" fill="#F8766D" opacity="0.6"/>
<circle cx="332.55" cy="478.01" r="2.56" fill="#F8766D" opacity="0.6"/>
<circle cx="355.5" cy="476.92" r="2.56" fill="#F8766D" opacity="0.6"/>
<circle cx="378.45" cy="463.19" r="2.56" fill="#F8766D" opacity="0.6"/>
<path d="M286.65 481.12L289.65 484.12L286.65 487.12L283.65 484.12ZM283.65 484.12H289.65M286.65 481.12V487.12" stroke="#FF61C3" stroke-width="1.0" fill="none" opacity="0.6"/>
<path d="M309.6 481.62L312.6 484.62L309.6 487.62L306.6 484.62ZM306.6 484.62H312.6M309.6 481.62V487.62" stroke="#FF61C3" stroke-width="1.0" fill="none" opacity="0.6"/>
<path d="M332.55 480.36L335.55 483.36L332.55 486.36L329.55 483.36ZM329.55 483.36H335.55M332.55 480.36V486.36" stroke="#FF61C3" stroke-width="1.0" fill="none" opacity="0.6"/>
<path d="M355.5 480.78L358.5 483.78L355.5 486.78L352.5 483.78ZM352.5 483.78H358.5M355.5 480.78V486.78" stroke="#FF61C3" stroke-width="1.0" fill="none" opacity="0.6"/>
<path d="M378.45 481.79L381.45 484.79L378.45 487.79L375.45 484.79ZM375.45 484.79H381.45M378.45 481.79V487.79" stroke="#FF61C3" stroke-width="1.0" fill="none" opacity="0.6"/>
<path d="M286.65 467.79L289.45 472.69L283.85 472.69Z" stroke="#D39200" stroke-width="1.0" fill="none" opacity="0.6"/>
<path d="M309.6 477.42L312.4 482.32L306.8 482.32Z" stroke="#D39200" stroke-width="1.0" fill="none" opacity="0.6"/>
<path d="M332.55 479.09L335.35 483.99L329.75 483.99Z" stroke="#D39200" stroke-width="1.0" fill="none" opacity="0.6"/>
<path d="M355.5 475.32L358.3 480.22L352.7 480.22Z" stroke="#D39200" stroke-width="1.0" fill="none" opacity="0.6"/>
<path d="M378.45 468.46L381.25 473.36L375.65 473.36Z" stroke="#D39200" stroke-width="1.0" fill="none" opacity="0.6"/>
<path d="M283.25 469.55H290.05M286.65 466.15V472.95" stroke="#93AA00" stroke-width="1.0" fill="none" opacity="0.6"/>
<path d="M306.2 480.02H313M309.6 476.62V483.42" stroke="#93AA00" stroke-width="1.0" fill="none" opacity="0.6"/>
<path d="M329.15 481.69H335.95M332.55 478.29V485.09" stroke="#93AA00" stroke-width="1.0" fill="none" opacity="0.6"/>
<path d="M352.1 477.92H358.9M355.5 474.52V481.32" stroke="#93AA00" stroke-width="1.0" fill="none" opacity="0.6"/>
<path d="M375.05 469.55H381.85M378.45 466.15V472.95" stroke="#93AA00" stroke-width="1.0" fill="none" opacity="0.6"/>
<path d="M284.22 478.84L289.08 483.7M284.22 483.7L289.08 478.84" stroke="#00BA38" stroke-width="1.0" fill="none" opacity="0.6"/>
<path d="M307.17 478.84L312.03 483.7M307.17 483.7L312.03 478.84" stroke="#00BA38" stroke-width="1.0" fill="none" opacity="0.6"/>
<path d="M330.12 478.84L334.98 483.7M330.12 483.7L334.98 478.84" stroke="#00BA38" stroke-width="1.0" fill="none" opacity="0.6"/>
<path d="M353.07 478.84L357.93 483.7M353.07 483.7L357.93 478.84" stroke="#00BA38" stroke-width="1.0" fill="none" opacity="0.6"/>
<path d="M376.02 478.84L380.88 483.7M376.02 483.7L380.88 478.84" stroke="#00BA38" stroke-width="1.0" fill="none" opacity="0.6"/>
<path d="M286.65 491.41L289.65 494.41L286.65 497.41L283.65 494.41Z" stroke="#00C19F" stroke-width="1.0" fill="none" opacity="0.6"/>
<path d="M309.6 492.25L312.6 495.25L309.6 498.25L306.6 495.25Z" stroke="#00C19F" stroke-width="1.0" fill="none" opacity="0.6"/>
<path d="M332.55 492.25L335.55 495.25L332.55 498.25L329.55 495.25Z" stroke="#00C19F" stroke-width="1.0" fill="none" opacity="0.6"/>
<path d="M355.5 492.25L358.5 495.25L355.5 498.25L352.5 495.25Z" stroke="#00C19F" stroke-width="1.0" fill="none" opacity="0.6"/>
<path d="M378.45 491.41L381.45 494.41L378.45 497.41L375.45 494.41Z" stroke="#00C19F" stroke-width="1.0" fill="none" opacity="0.6"/>
<path d="M284.3 478.92H289V483.62H284.3ZM284.3 478.92L289 483.62M284.3 483.62L289 478.92" stroke="#619CFF" stroke-width="1.0" fill="none" opacity="0.6"/>
<path d="M307.25 478.92H311.95V483.62H307.25ZM307.25 478.92L311.95 483.62M307.25 483.62L311.95 478.92" stroke="#619CFF" stroke-width="1.0" fill="none" opacity="0.6"/>
<path d="M330.2 478.92H334.9V483.62H330.2ZM330.2 478.92L334.9 483.62M330.2 483.62L334.9 478.92" stroke="#619CFF" stroke-width="1.0" fill="none" opacity="0.6"/>
<path d="M353.15 478.92H357.85V483.62H353.15ZM353.15 478.92L357.85 483.62M353.15 483.62L357.85 478.92" stroke="#619CFF" stroke-width="1.0" fill="none" opacity="0.6"/>
<path d="M376.1 478.92H380.8V483.62H376.1ZM376.1 478.92L380.8 483.62M376.1 483.62L380.8 478.92" stroke="#619CFF" stroke-width="1.0" fill="none" opacity="0.6"/>
<path d="M286.65 468.64L289.45 463.74L283.85 463.74Z" stroke="#00B9E3" stroke-width="1.0" fill="none" opacity="0.6"/>
<path d="M309.6 482.36L312.4 477.46L306.8 477.46Z" stroke="#00B9E3" stroke-width="1.0" fill="none" opacity="0.6"/>
<path d="M332.55 483.87L335.35 478.97L329.75 478.97Z" stroke="#00B9E3" stroke-width="1.0" fill="none" opacity="0.6"/>
<path d="M355.5 480.19L358.3 475.29L352.7 475.29Z" stroke="#00B9E3" stroke-width="1.0" fill="none" opacity="0.6"/>
<path d="M378.45 470.81L381.25 465.91L375.65 465.91Z" stroke="#00B9E3" stroke-width="1.0" fill="none" opacity="0.6"/>
<path d="M283.41 480.85H289.89M286.65 477.61V484.09M284.36 478.56L288.94 483.14M284.36 483.14L288.94 478.56" stroke="#DB72FB" stroke-width="1.0" fill="none" opacity="0.6"/>
<path d="M306.36 480.85H312.84M309.6 477.61V484.09M307.31 478.56L311.89 483.14M307.31 483.14L311.89 478.56" stroke="#DB72FB" stroke-width="1.0" fill="none" opacity="0.6"/>
<path d="M329.31 480.85H335.79M332.55 477.61V484.09M330.26 478.56L334.84 483.14M330.26 483.14L334.84 478.56" stroke="#DB72FB" stroke-width="1.0" fill="none" opacity="0.6"/>
<path d="M352.26 480.85H358.74M355.5 477.61V484.09M353.21 478.56L357.79 483.14M353.21 483.14L357.79 478.56" stroke="#DB72FB" stroke-width="1.0" fill="none" opacity="0.6"/>
<path d="M375.21 480.85H381.69M378.45 477.61V484.09M376.16 478.56L380.74 483.14M376.16 483.14L380.74 478.56" stroke="#DB72FB" stroke-width="1.0" fill="none" opacity="0.6"/>
</svg>
<path d="M25.9 260.8H28.0" stroke="#333" stroke-width="0.9"/>
<text x="24.9" y="265.1" font-size="10" fill="#4D4D4D" stroke="#4D4D4D" stroke-width="0.3" text-anchor="end">0.00</text>
<path d="M25.9 204.7H28.0" stroke="#333" stroke-width="0.9"/>
<text x="24.9" y="209" font-size="10" fill="#4D4D4D" stroke="#4D4D4D" stroke-width="0.3" text-anchor="end">0.25</text>
<path d="M25.9 148.6H28.0" stroke="#333" stroke-width="0.9"/>
<text x="24.9" y="152.9" font-size="10" fill="#4D4D4D" stroke="#4D4D4D" stroke-width="0.3" text-anchor="end">0.50</text>
<path d="M25.9 92.5H28.0" stroke="#333" stroke-width="0.9"/>
<text x="24.9" y="96.8" font-size="10" fill="#4D4D4D" stroke="#4D4D4D" stroke-width="0.3" text-anchor="end">0.75</text>
<path d="M25.9 36.4H28.0" stroke="#333" stroke-width="0.9"/>
<text x="24.9" y="40.7" font-size="10" fill="#4D4D4D" stroke="#4D4D4D" stroke-width="0.3" text-anchor="end">1.00</text>
<path d="M25.9 495.5H28.0" stroke="#333" stroke-width="0.9"/>
<text x="24.9" y="499.8" font-size="10" fill="#4D4D4D" stroke="#4D4D4D" stroke-width="0.3" text-anchor="end">0</text>
<path d="M25.9 411.8H28.0" stroke="#333" stroke-width="0.9"/>
<text x="24.9" y="416.1" font-size="10" fill="#4D4D4D" stroke="#4D4D4D" stroke-width="0.3" text-anchor="end">10</text>
<path d="M25.9 328.1H28.0" stroke="#333" stroke-width="0.9"/>
<text x="24.9" y="332.4" font-size="10" fill="#4D4D4D" stroke="#4D4D4D" stroke-width="0.3" text-anchor="end">20</text>
<path d="M41.8 505.6V507.70000000000005" stroke="#333" stroke-width="0.9"/>
<text x="41.8" y="518.1" font-size="10" fill="#4D4D4D" stroke="#4D4D4D" stroke-width="0.3" text-anchor="middle">40</text>
<path d="M64.75 505.6V507.70000000000005" stroke="#333" stroke-width="0.9"/>
<text x="64.75" y="518.1" font-size="10" fill="#4D4D4D" stroke="#4D4D4D" stroke-width="0.3" text-anchor="middle">60</text>
<path d="M87.7 505.6V507.70000000000005" stroke="#333" stroke-width="0.9"/>
<text x="87.7" y="518.1" font-size="10" fill="#4D4D4D" stroke="#4D4D4D" stroke-width="0.3" text-anchor="middle">80</text>
<path d="M110.65 505.6V507.70000000000005" stroke="#333" stroke-width="0.9"/>
<text x="110.65" y="518.1" font-size="10" fill="#4D4D4D" stroke="#4D4D4D" stroke-width="0.3" text-anchor="middle">100</text>
<path d="M133.6 505.6V507.70000000000005" stroke="#333" stroke-width="0.9"/>
<text x="133.6" y="518.1" font-size="10" fill="#4D4D4D" stroke="#4D4D4D" stroke-width="0.3" text-anchor="middle">120</text>
<path d="M164.2 505.6V507.70000000000005" stroke="#333" stroke-width="0.9"/>
<text x="164.2" y="518.1" font-size="10" fill="#4D4D4D" stroke="#4D4D4D" stroke-width="0.3" text-anchor="middle">40</text>
<path d="M187.15 505.6V507.70000000000005" stroke="#333" stroke-width="0.9"/>
<text x="187.15" y="518.1" font-size="10" fill="#4D4D4D" stroke="#4D4D4D" stroke-width="0.3" text-anchor="middle">60</text>
<path d="M210.1 505.6V507.70000000000005" stroke="#333" stroke-width="0.9"/>
<text x="210.1" y="518.1" font-size="10" fill="#4D4D4D" stroke="#4D4D4D" stroke-width="0.3" text-anchor="middle">80</text>
<path d="M233.05 505.6V507.70000000000005" stroke="#333" stroke-width="0.9"/>
<text x="233.05" y="518.1" font-size="10" fill="#4D4D4D" stroke="#4D4D4D" stroke-width="0.3" text-anchor="middle">100</text>
<path d="M256 505.6V507.70000000000005" stroke="#333" stroke-width="0.9"/>
<text x="256" y="518.1" font-size="10" fill="#4D4D4D" stroke="#4D4D4D" stroke-width="0.3" text-anchor="middle">120</text>
<path d="M286.65 505.6V507.70000000000005" stroke="#333" stroke-width="0.9"/>
<text x="286.65" y="518.1" font-size="10" fill="#4D4D4D" stroke="#4D4D4D" stroke-width="0.3" text-anchor="middle">40</text>
<path d="M309.6 505.6V507.70000000000005" stroke="#333" stroke-width="0.9"/>
<text x="309.6" y="518.1" font-size="10" fill="#4D4D4D" stroke="#4D4D4D" stroke-width="0.3" text-anchor="middle">60</text>
<path d="M332.55 505.6V507.70000000000005" stroke="#333" stroke-width="0.9"/>
<text x="332.55" y="518.1" font-size="10" fill="#4D4D4D" stroke="#4D4D4D" stroke-width="0.3" text-anchor="middle">80</text>
<path d="M355.5 505.6V507.70000000000005" stroke="#333" stroke-width="0.9"/>
<text x="355.5" y="518.1" font-size="10" fill="#4D4D4D" stroke="#4D4D4D" stroke-width="0.3" text-anchor="middle">100</text>
<path d="M378.45 505.6V507.70000000000005" stroke="#333" stroke-width="0.9"/>
<text x="378.45" y="518.1" font-size="10" fill="#4D4D4D" stroke="#4D4D4D" stroke-width="0.3" text-anchor="middle">120</text>
<text x="209.4" y="530.7" font-size="10.6" fill="#000" stroke="#000" stroke-width="0.3" text-anchor="middle">Starting time-periods of change</text>
<text x="416.9" y="216.5" font-size="10.3" fill="#000" stroke="#000" stroke-width="0.3">method</text>
 <rect x="416" y="223.63" width="10.3" height="11.34" fill="#F4F4F4"/>
<path d="M417 229.3H425.2" stroke="#F8766D" stroke-width="1.7"/>
<circle cx="421.1" cy="229.3" r="2.56" fill="#F8766D" opacity="0.6"/>
<text x="431.3" y="233.9" font-size="11.7" fill="#000" stroke="#000" stroke-width="0.3">BFAST</text>
 <rect x="416" y="234.97" width="10.3" height="11.34" fill="#F4F4F4"/>
<path d="M417 240.64H425.2" stroke="#D39200" stroke-width="1.7"/>
<path d="M421.1 238.04L423.9 242.94L418.3 242.94Z" stroke="#D39200" stroke-width="1.0" fill="none" opacity="0.6"/>
<text x="431.3" y="245.24" font-size="11.7" fill="#000" stroke="#000" stroke-width="0.3">Buishand Range</text>
 <rect x="416" y="246.31" width="10.3" height="11.34" fill="#F4F4F4"/>
<path d="M417 251.98H425.2" stroke="#93AA00" stroke-width="1.7"/>
<path d="M417.7 251.98H424.5M421.1 248.58V255.38" stroke="#93AA00" stroke-width="1.0" fill="none" opacity="0.6"/>
<text x="431.3" y="256.58" font-size="11.7" fill="#000" stroke="#000" stroke-width="0.3">Buishand U</text>
 <rect x="416" y="257.65" width="10.3" height="11.34" fill="#F4F4F4"/>
<path d="M417 263.32H425.2" stroke="#00BA38" stroke-width="1.7"/>
<path d="M418.67 260.89L423.53 265.75M418.67 265.75L423.53 260.89" stroke="#00BA38" stroke-width="1.0" fill="none" opacity="0.6"/>
<text x="431.3" y="267.92" font-size="11.7" fill="#000" stroke="#000" stroke-width="0.3">Meanvar</text>
 <rect x="416" y="268.99" width="10.3" height="11.34" fill="#F4F4F4"/>
<path d="M417 274.66H425.2" stroke="#00C19F" stroke-width="1.7"/>
<path d="M421.1 271.66L424.1 274.66L421.1 277.66L418.1 274.66Z" stroke="#00C19F" stroke-width="1.0" fill="none" opacity="0.6"/>
<text x="431.3" y="279.26" font-size="11.7" fill="#000" stroke="#000" stroke-width="0.3">Multivariate E.divisive</text>
 <rect x="416" y="280.33" width="10.3" height="11.34" fill="#F4F4F4"/>
<path d="M417 286H425.2" stroke="#00B9E3" stroke-width="1.7"/>
<path d="M421.1 288.6L423.9 283.7L418.3 283.7Z" stroke="#00B9E3" stroke-width="1.0" fill="none" opacity="0.6"/>
<text x="431.3" y="290.6" font-size="11.7" fill="#000" stroke="#000" stroke-width="0.3">Pettitt</text>
 <rect x="416" y="291.67" width="10.3" height="11.34" fill="#F4F4F4"/>
<path d="M417 297.34H425.2" stroke="#619CFF" stroke-width="1.7"/>
<path d="M418.75 294.99H423.45V299.69H418.75ZM418.75 294.99L423.45 299.69M418.75 299.69L423.45 294.99" stroke="#619CFF" stroke-width="1.0" fill="none" opacity="0.6"/>
<text x="431.3" y="301.94" font-size="11.7" fill="#000" stroke="#000" stroke-width="0.3">Snh</text>
 <rect x="416" y="303.01" width="10.3" height="11.34" fill="#F4F4F4"/>
<path d="M417 308.68H425.2" stroke="#DB72FB" stroke-width="1.7"/>
<path d="M417.86 308.68H424.34M421.1 305.44V311.92M418.81 306.39L423.39 310.97M418.81 310.97L423.39 306.39" stroke="#DB72FB" stroke-width="1.0" fill="none" opacity="0.6"/>
<text x="431.3" y="313.28" font-size="11.7" fill="#000" stroke="#000" stroke-width="0.3">Strucchange</text>
 <rect x="416" y="314.35" width="10.3" height="11.34" fill="#F4F4F4"/>
<path d="M417 320.02H425.2" stroke="#FF61C3" stroke-width="1.7"/>
<path d="M421.1 317.02L424.1 320.02L421.1 323.02L418.1 320.02ZM418.1 320.02H424.1M421.1 317.02V323.02" stroke="#FF61C3" stroke-width="1.0" fill="none" opacity="0.6"/>
<text x="431.3" y="324.62" font-size="11.7" fill="#000" stroke="#000" stroke-width="0.3">Univariate E.divisive</text>
</svg>
</body></html>
